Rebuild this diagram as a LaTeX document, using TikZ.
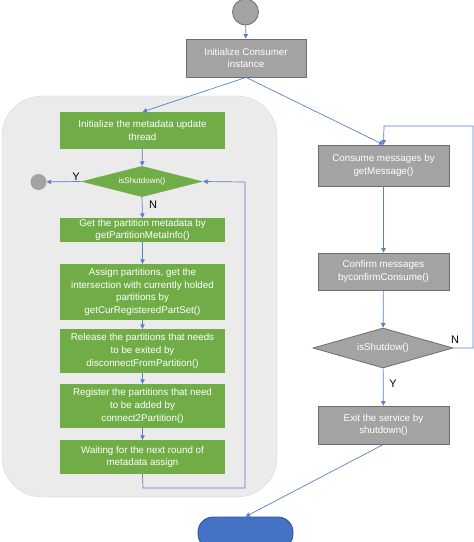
\documentclass[tikz,border=0pt]{standalone}
\usepackage{fontspec}
\setmainfont{Liberation Sans}
\usetikzlibrary{shapes.geometric,arrows.meta}
\definecolor{boxgray}{HTML}{A3A3A3}
\definecolor{boxedge}{HTML}{6E6E6E}
\definecolor{grn}{HTML}{70AD47}
\definecolor{regionbg}{HTML}{EBEBEB}
\definecolor{arrowblue}{HTML}{5B7FC7}
\definecolor{termblue}{HTML}{4472C4}
\definecolor{termedge}{HTML}{2F528F}
\tikzset{
  graybox/.style={draw=boxedge, line width=0.8pt, fill=boxgray, text=white, align=center,
    inner sep=1pt, font=\fontsize{9.8}{12.8}\selectfont},
  greenbox/.style={fill=grn, text=white, align=center, minimum width=165pt, inner sep=1pt,
    font=\fontsize{9.8}{12.8}\selectfont},
  region/.style={fill=regionbg, draw=regionbg!90!black, line width=0.3pt, rounded corners=40pt},
  conn/.style={draw=arrowblue, line width=0.7pt, -{Triangle[width=4.5pt,length=4.5pt]}},
  lbl/.style={font=\fontsize{11}{13}\selectfont, text=black, inner sep=0pt},
}
\begin{document}
\begin{tikzpicture}[x=1pt,y=-1pt]
\useasboundingbox (0,0) rectangle (474,542);
% background region
\node[region, minimum width=275pt, minimum height=401pt] (grp) at (139.5,296.5) {};
% start
\node[circle, draw=boxedge, line width=0.8pt, fill=boxgray, minimum size=26pt, inner sep=0pt] (start) at (245.5,12) {};
\node[graybox, minimum width=120pt, minimum height=38pt] (init) at (246,58) {Initialize Consumer\\instance};
% left flow
\node[greenbox, minimum height=37pt] (g1) at (142.5,130.5) {Initialize the metadata update\\thread};
\node[diamond, aspect=3.9, fill=grn, text=white, minimum width=122pt, minimum height=31pt, inner sep=0pt,
  font=\fontsize{8}{10}\selectfont] (d1) at (142,181.5) {isShutdown()};
\node[circle, fill=boxgray, minimum size=16pt, inner sep=0pt] (e1) at (38.5,182) {};
\node[greenbox, minimum height=24pt] (g2) at (142.5,230) {Get the partition metadata by\\getPartitionMetaInfo()};
\node[greenbox, minimum height=56pt] (g3) at (142.5,292) {Assign partitions, get the\\intersection with currently holded\\partitions by\\getCurRegisteredPartSet()};
\node[greenbox, minimum height=44pt] (g4) at (142.5,351) {Release the partitions that needs\\to be exited by\\disconnectFromPartition()};
\node[greenbox, minimum height=44pt] (g5) at (142.5,406) {Register the partitions that need\\to be added by\\connect2Partition()};
\node[greenbox, minimum height=34pt] (g6) at (142.5,457) {Waiting for the next round of\\metadata assign};
% right flow
\node[graybox, minimum width=131pt, minimum height=41pt] (c1) at (383.5,165.5) {Consume messages by\\getMessage()};
\node[graybox, minimum width=131pt, minimum height=37pt] (c2) at (383.5,271.5) {Confirm messages\\byconfirmConsume()};
\node[diamond, aspect=3.5, draw=boxedge, line width=0.8pt, fill=boxgray, text=white, minimum width=140pt, minimum height=40pt,
  inner sep=0pt, font=\fontsize{9.8}{12}\selectfont] (d2) at (383,348) {isShutdow()};
\node[graybox, minimum width=131pt, minimum height=38pt] (c3) at (383.5,425) {Exit the service by\\shutdown()};
\node[rounded corners=15pt, draw=termedge, line width=0.8pt, fill=termblue, minimum width=95pt, minimum height=32pt] (term) at (245.5,533) {};
% coordinates
\coordinate (lpA) at (143,488);
\coordinate (lpB) at (245,488);
\coordinate (lpC) at (245,182);
\coordinate (rpA) at (473,348);
\coordinate (rpB) at (473,126);
\coordinate (rpC) at (384,126);
% connectors
\draw[conn] (start) -- (init);
\draw[conn] (init.south) -- (g1.north);
\draw[conn] (init.south) -- (c1.north);
\draw[conn] (g1) -- (d1);
\draw[conn] (d1.west) -- (e1);
\draw[conn] (d1.south) -- (g2.north);
\draw[conn] (g2) -- (g3);
\draw[conn] (g3) -- (g4);
\draw[conn] (g4) -- (g5);
\draw[conn] (g5) -- (g6);
\draw[conn] (g6.south) -- (lpA) -- (lpB) -- (lpC) -- (d1.east);
\draw[conn] (c1) -- (c2);
\draw[conn] (c2) -- (d2);
\draw[conn] (d2) -- (c3);
\draw[conn] (d2.east) -- (rpA) -- (rpB) -- (rpC) -- (c1.north);
\draw[conn] (c3.south) -- (term.north);
% labels
\node[lbl] (ly1) at (76,177) {Y};
\node[lbl] (ln1) at (153,205) {N};
\node[lbl] (ln2) at (455,340) {N};
\node[lbl] (ly2) at (393,384) {Y};
\end{tikzpicture}
\end{document}
